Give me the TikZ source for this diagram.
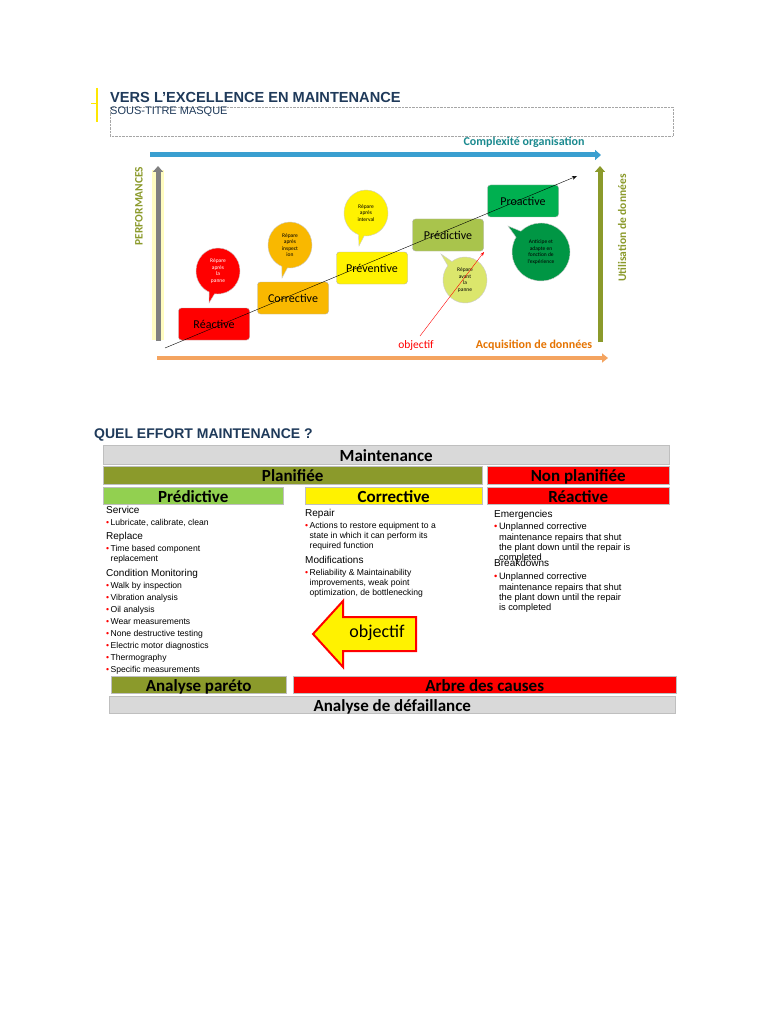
\documentclass[tikz,border=0pt]{standalone}
\usepackage{fontspec}
\setmainfont{Liberation Sans}
\newfontfamily\calf{Carlito}
\usetikzlibrary{arrows.meta,shapes.callouts}
\definecolor{ttl}{HTML}{1F3A5A}
\definecolor{olv}{HTML}{8B9A2B}
\definecolor{lgr}{HTML}{92D050}
\definecolor{org}{HTML}{F9B800}
\definecolor{prd}{HTML}{A9C44C}
\definecolor{grn}{HTML}{00B050}
\definecolor{tealc}{HTML}{1B8A8F}
\definecolor{blu}{HTML}{3A9FD0}
\definecolor{ora}{HTML}{F4A460}
\definecolor{gr}{HTML}{D9D9D9}
\tikzset{
 stage/.style={draw=black!30,rounded corners=3pt,minimum width=71pt,minimum height=32pt,font=\calf\fontsize{12}{12}\selectfont,inner sep=0pt},
 bub/.style={ellipse callout,draw=black!20,font=\calf\fontsize{5.5}{6.5}\selectfont,align=center,inner sep=0pt,minimum width=44pt,minimum height=46pt},
 bar/.style={draw=black!25,font=\calf\bfseries\fontsize{17}{17}\selectfont,inner sep=0pt,text height=14pt,text depth=1pt,anchor=north west},
 lst/.style={anchor=north west,align=left,inner sep=0pt,font=\fontsize{10}{11}\selectfont},
 sm/.style={anchor=north west,align=left,inner sep=0pt,font=\fontsize{8.6}{10}\selectfont},
}
\newcommand{\bl}{{\color{red}\textbullet}\,}
\begin{document}
\begin{tikzpicture}[x=1pt,y=-1pt]
\useasboundingbox[fill=white] (0,0) rectangle (768,1024);
% header
\draw[yellow!90!orange,line width=2pt] (97,88) -- (97,122);
\draw[yellow!90!orange,line width=1pt] (91,104) -- (97,104);
\node[anchor=west,inner sep=0pt,text=ttl,font=\bfseries\fontsize{14.6}{15}\selectfont] (t1) at (110,97) {VERS L’EXCELLENCE EN MAINTENANCE};
\draw[black!35,densely dotted] (110,107) rectangle (673,136);
\node[anchor=west,inner sep=0pt,text=ttl,font=\fontsize{11}{11}\selectfont] (t2) at (110,112) {SOUS-TITRE MASQUE};
% axes
\node[text=tealc,font=\calf\bfseries\fontsize{12}{12}\selectfont] (cx) at (524,142) {Complexité organisation};
\coordinate (b1) at (150,155); \coordinate (b2) at (601,155);
\draw[blu,line width=5pt,-{Triangle[length=6pt,width=10pt]}] (b1) -- (b2);
\coordinate (o1) at (157,358); \coordinate (o2) at (608,358);
\draw[ora,line width=4pt,-{Triangle[length=6pt,width=9pt]}] (o1) -- (o2);
\coordinate (g1) at (158,341); \coordinate (g2) at (158,166);
\draw[yellow!40,line width=12pt,opacity=.6] (158,340) -- (158,170);
\draw[gray,line width=5pt,-{Triangle[length=6pt,width=10pt]}] (g1) -- (g2);
\node[rotate=90,text=olv,font=\calf\bfseries\fontsize{11.4}{11}\selectfont] (pf) at (139,206) {PERFORMANCES};
\coordinate (v1) at (600,342); \coordinate (v2) at (600,166);
\draw[olv,line width=5pt,-{Triangle[length=6pt,width=10pt]}] (v1) -- (v2);
\node[rotate=90,text=olv,font=\calf\bfseries\fontsize{11.5}{11}\selectfont] (ud) at (622,228) {Utilisation de données};
% bubbles
\node[bub,fill=red,text=white,callout absolute pointer={(209,303)}] (c1) at (218,271) {Répare\\après\\la\\panne};
\node[bub,fill=org,callout absolute pointer={(282,278)}] (c2) at (290,245) {Répare\\après\\inspect\\ion};
\node[bub,fill=yellow,callout absolute pointer={(359,246)}] (c3) at (366,213) {Répare\\après\\interval};
\node[bub,fill=prd!60!yellow!70,callout absolute pointer={(441,254)}] (c4) at (465,280) {Répare\\avant\\la\\panne};
\node[bub,fill=grn!85!black,minimum width=58pt,minimum height=58pt,callout absolute pointer={(508,226)}] (c5) at (541,252) {Anticipe et\\adapte en\\fonction de\\l’expérience};
% stages
\node[stage,fill=red] (s1) at (214,324) {Réactive};
\node[stage,fill=org] (s2) at (293,298) {Corrective};
\node[stage,fill=yellow] (s3) at (372,268) {Préventive};
\node[stage,fill=prd] (s4) at (448,235) {Prédictive};
\node[stage,fill=grn] (s5) at (523,201) {Proactive};
\coordinate (k1) at (165,348); \coordinate (k2) at (577,176);
\draw[-{Stealth[length=5pt]}] (k1) -- (k2);
\node[text=red,font=\calf\fontsize{11.5}{11}\selectfont] (ob) at (416,345) {objectif};
\node[text=orange!90!black,font=\calf\bfseries\fontsize{12}{12}\selectfont] (aq) at (534,345) {Acquisition de données};
\coordinate (r1) at (420,336); \coordinate (r2) at (484,252);
\draw[red,thin,-{Stealth[length=4pt]}] (r1) -- (r2);
% bottom
\node[anchor=west,inner sep=0pt,text=ttl,font=\bfseries\fontsize{14}{14}\selectfont] (q) at (94,435) {QUEL EFFORT MAINTENANCE ?};
\node[bar,fill=gr,minimum width=566pt,minimum height=19pt] (m) at (103,445) {Maintenance};
\node[bar,fill=olv,minimum width=379pt,minimum height=18pt] (p) at (103,466) {Planifiée};
\node[bar,fill=red,minimum width=182pt,minimum height=18pt] (np) at (487,466) {Non planifiée};
\node[bar,fill=lgr,minimum width=180pt,minimum height=17pt] (pd) at (103,487) {Prédictive};
\node[bar,fill=yellow,minimum width=177pt,minimum height=17pt] (cr) at (305,487) {Corrective};
\node[bar,fill=red,minimum width=182pt,minimum height=17pt] (ra) at (487,487) {Réactive};
\node[lst] (l1) at (106,506) {Service};
\node[sm] (l2) at (106,519) {\bl Lubricate, calibrate, clean};
\node[lst] (l3) at (106,532) {Replace};
\node[sm] (l4) at (106,545) {\bl Time based component\\\phantom{\bl}replacement};
\node[lst] (l5) at (106,569) {Condition Monitoring};
\node[sm,font=\fontsize{8.6}{12}\selectfont] (l6) at (106,582) {\bl Walk by inspection\\\bl Vibration analysis\\\bl Oil analysis\\\bl Wear measurements\\\bl None destructive testing\\\bl Electric motor diagnostics\\\bl Thermography\\\bl Specific measurements};
\node[lst] (m1) at (305,509) {Repair};
\node[sm] (m2) at (305,522) {\bl Actions to restore equipment to a\\\phantom{\bl}state in which it can perform its\\\phantom{\bl}required function};
\node[lst] (m3) at (305,556) {Modifications};
\node[sm] (m4) at (305,569) {\bl Reliability \& Maintainability\\\phantom{\bl}improvements, weak point\\\phantom{\bl}optimization, de bottlenecking};
\node[lst] (n1) at (494,510) {Emergencies};
\node[sm,font=\fontsize{9.3}{10.3}\selectfont] (n2) at (494,523) {\bl Unplanned corrective\\\phantom{\bl}maintenance repairs that shut\\\phantom{\bl}the plant down until the repair is\\\phantom{\bl}completed};
\node[lst] (n3) at (494,559) {Breakdowns};
\node[sm,font=\fontsize{9.3}{10.3}\selectfont] (n4) at (494,573) {\bl Unplanned corrective\\\phantom{\bl}maintenance repairs that shut\\\phantom{\bl}the plant down until the repair\\\phantom{\bl}is completed};
% objectif arrow
\draw[red,line width=2pt,fill=yellow,line join=miter] (313,634) -- (343,601) -- (343,617) -- (416,617) -- (416,651) -- (343,651) -- (343,667) -- cycle;
\node[font=\calf\fontsize{18}{18}\selectfont] (oj) at (377,633) {objectif};
\node[bar,fill=olv,minimum width=175pt,minimum height=17pt] (ap) at (111,676) {Analyse paréto};
\node[bar,fill=red,minimum width=383pt,minimum height=17pt] (ac) at (293,676) {Arbre des causes};
\node[bar,fill=gr,minimum width=566pt,minimum height=17pt] (ad) at (109,696) {Analyse de défaillance};
\end{tikzpicture}
\end{document}
